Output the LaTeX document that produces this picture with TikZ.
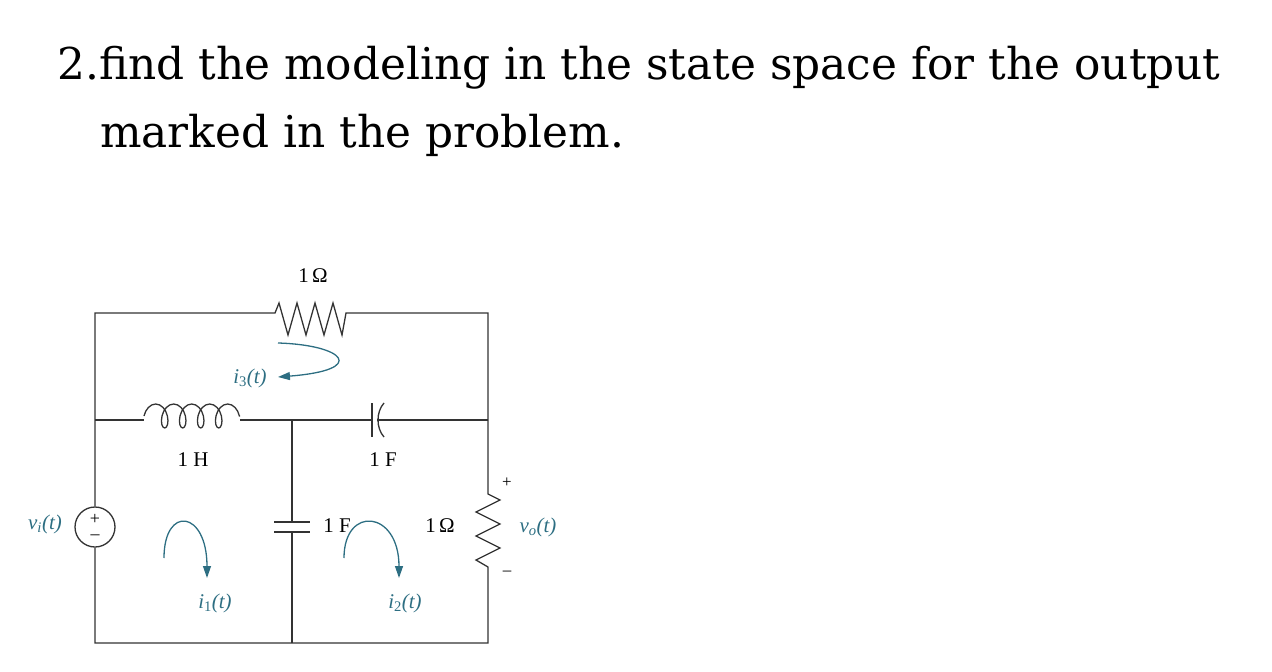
\documentclass[tikz,border=0pt]{standalone}
\usepackage{fontspec}
\setmainfont{Liberation Serif}
\newfontfamily\titlefont{DejaVu Serif}
\usetikzlibrary{decorations.pathmorphing,arrows.meta}
\definecolor{teal}{RGB}{45,110,130}
\begin{document}
\begin{tikzpicture}[x=1bp,y=-1bp,
  wire/.style={line width=1.3pt,black!80},
  lab/.style={font=\fontsize{21}{22}\selectfont},
  cur/.style={teal,line width=1.3pt,-{Triangle[length=12pt,width=8pt]}},
  clab/.style={font=\fontsize{21}{22}\selectfont\itshape,teal}]
\useasboundingbox (0,0) rectangle (1272,672);
\node[anchor=base west,font=\titlefont\fontsize{44}{50}\selectfont,inner sep=0pt] (t1) at (57,80) {2.find the modeling in the state space for the output};
\node[anchor=base west,font=\titlefont\fontsize{44}{50}\selectfont,inner sep=0pt] (t2) at (100,148) {marked in the problem.};
% nodes
\coordinate (TL) at (95,313); \coordinate (TR) at (488,313);
\coordinate (ML) at (95,420); \coordinate (MM) at (292,420); \coordinate (MR) at (488,420);
\coordinate (BL) at (95,643); \coordinate (BM) at (292,643); \coordinate (BR) at (488,643);
\node[draw,circle,wire,minimum size=40bp,inner sep=0pt] (src) at (95,527) {};
\node[font=\fontsize{18}{18}\selectfont] at (95,519) {+};
\node[font=\fontsize{18}{18}\selectfont] at (95,537) {--};
% wires
\draw[wire] (src.north) -- (TL) -- (275,313) -- (279,303) -- (288,335) -- (297,303) -- (306,335) -- (315,303) -- (324,335) -- (333,303) -- (342,335) -- (346,313) -- (TR) -- (MR);
\draw[wire] (src.south) -- (BL) -- (BM) -- (BR) -- (488,570) -- (488,567) -- (476,560) -- (500,548) -- (476,536) -- (500,524) -- (476,512) -- (500,500) -- (488,494) -- (MR);
\draw[wire] (ML) -- (144,420);
\draw[wire,decorate,decoration={coil,aspect=0.6,amplitude=12bp,segment length=18bp,pre length=0pt,post length=0pt}] (144,416) -- (240,416);
\draw[wire] (240,420) -- (MM) -- (372,420);
\draw[wire] (372,403) -- (372,437);
\draw[wire] (384,403) .. controls (376,412) and (376,428) .. (384,437);
\draw[wire] (377,420) -- (MR);
\draw[wire] (MM) -- (292,522); \draw[wire] (292,532) -- (BM);
\draw[wire] (274,522) -- (310,522); \draw[wire] (274,532) -- (310,532);
% labels
\node[lab] at (313,276) {1\,Ω};
\node[lab] at (193,460) {1 H};
\node[lab] at (383,460) {1 F};
\node[lab] at (337,526) {1 F};
\node[lab] at (440,526) {1\,Ω};
\node[font=\fontsize{17}{17}\selectfont] at (507,483) {+};
\node[font=\fontsize{17}{17}\selectfont] at (507,573) {--};
\node[clab] at (538,527) {v\textsubscript{\itshape o}(t)};
\node[clab] at (45,524) {v\textsubscript{\itshape i}(t)};
\node[clab] at (250,378) {i\textsubscript{\upshape 3}(t)};
\node[clab] at (215,603) {i\textsubscript{\upshape 1}(t)};
\node[clab] at (405,603) {i\textsubscript{\upshape 2}(t)};
% current arrows
\draw[cur] (278,343) .. controls (345,345) and (368,370) .. (278,377);
\draw[cur] (164,558) .. controls (164,505) and (207,510) .. (207,578);
\draw[cur] (344,558) .. controls (344,505) and (399,510) .. (399,578);
\end{tikzpicture}
\end{document}
